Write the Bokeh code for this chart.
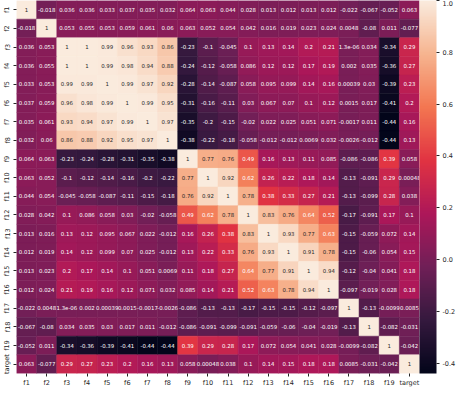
import numpy as np
from bokeh.plotting import figure
from bokeh.models import ColumnDataSource, LinearColorMapper, ColorBar, FixedTicker, PrintfTickFormatter
from bokeh.embed import file_html
from bokeh.resources import INLINE
from bokeh.core.properties import value

labels = ["f1", "f2", "f3", "f4", "f5", "f6", "f7", "f8", "f9", "f10",
          "f11", "f12", "f13", "f14", "f15", "f16", "f17", "f18", "f19", "target"]

row_f1 = [1, -0.018, 0.036, 0.036, 0.033, 0.037, 0.035, 0.032, 0.064, 0.063, 0.044, 0.028, 0.013, 0.012, 0.013, 0.012, -0.022, -0.067, -0.052, 0.063]
row_f2 = [-0.018, 1, 0.053, 0.055, 0.053, 0.059, 0.061, 0.06, 0.063, 0.052, 0.054, 0.042, 0.016, 0.019, 0.023, 0.024, 0.0048, -0.08, 0.011, -0.077]
row_f3 = [0.036, 0.053, 1, 1, 0.99, 0.96, 0.93, 0.86, -0.23, -0.1, -0.045, 0.1, 0.13, 0.14, 0.2, 0.21, 1.3e-06, 0.034, -0.34, 0.29]
row_f4 = [0.036, 0.055, 1, 1, 0.99, 0.98, 0.94, 0.88, -0.24, -0.12, -0.058, 0.086, 0.12, 0.12, 0.17, 0.19, 0.002, 0.035, -0.36, 0.27]
row_f5 = [0.033, 0.053, 0.99, 0.99, 1, 0.99, 0.97, 0.92, -0.28, -0.14, -0.087, 0.058, 0.095, 0.099, 0.14, 0.16, 0.00039, 0.03, -0.39, 0.23]
row_f6 = [0.037, 0.059, 0.96, 0.98, 0.99, 1, 0.99, 0.95, -0.31, -0.16, -0.11, 0.03, 0.067, 0.07, 0.1, 0.12, 0.0015, 0.017, -0.41, 0.2]
row_f7 = [0.035, 0.061, 0.93, 0.94, 0.97, 0.99, 1, 0.97, -0.35, -0.2, -0.15, -0.02, 0.022, 0.025, 0.051, 0.071, -0.0017, 0.011, -0.44, 0.16]
row_f8 = [0.032, 0.06, 0.86, 0.88, 0.92, 0.95, 0.97, 1, -0.38, -0.22, -0.18, -0.058, -0.012, -0.012, 0.0069, 0.032, -0.0026, -0.012, -0.44, 0.13]
row_f9 = [0.064, 0.063, -0.23, -0.24, -0.28, -0.31, -0.35, -0.38, 1, 0.77, 0.76, 0.49, 0.16, 0.13, 0.11, 0.085, -0.086, -0.086, 0.39, 0.058]
row_f10 = [0.063, 0.052, -0.1, -0.12, -0.14, -0.16, -0.2, -0.22, 0.77, 1, 0.92, 0.62, 0.26, 0.22, 0.18, 0.14, -0.13, -0.091, 0.29, 0.00048]
row_f11 = [0.044, 0.054, -0.045, -0.058, -0.087, -0.11, -0.15, -0.18, 0.76, 0.92, 1, 0.78, 0.38, 0.33, 0.27, 0.21, -0.13, -0.099, 0.28, 0.038]
row_f12 = [0.028, 0.042, 0.1, 0.086, 0.058, 0.03, -0.02, -0.058, 0.49, 0.62, 0.78, 1, 0.83, 0.76, 0.64, 0.52, -0.17, -0.091, 0.17, 0.1]
row_f13 = [0.013, 0.016, 0.13, 0.12, 0.095, 0.067, 0.022, -0.012, 0.16, 0.26, 0.38, 0.83, 1, 0.93, 0.77, 0.63, -0.15, -0.059, 0.072, 0.14]
row_f14 = [0.012, 0.019, 0.14, 0.12, 0.099, 0.07, 0.025, -0.012, 0.13, 0.22, 0.33, 0.76, 0.93, 1, 0.91, 0.78, -0.15, -0.06, 0.054, 0.15]
row_f15 = [0.013, 0.023, 0.2, 0.17, 0.14, 0.1, 0.051, 0.0069, 0.11, 0.18, 0.27, 0.64, 0.77, 0.91, 1, 0.94, -0.12, -0.04, 0.041, 0.18]
row_f16 = [0.012, 0.024, 0.21, 0.19, 0.16, 0.12, 0.071, 0.032, 0.085, 0.14, 0.21, 0.52, 0.63, 0.78, 0.94, 1, -0.097, -0.019, 0.028, 0.18]
row_f17 = [-0.022, 0.0048, 1.3e-06, 0.002, 0.00039, 0.0015, -0.0017, -0.0026, -0.086, -0.13, -0.13, -0.17, -0.15, -0.15, -0.12, -0.097, 1, -0.13, -0.0099, 0.0085]
row_f18 = [-0.067, -0.08, 0.034, 0.035, 0.03, 0.017, 0.011, -0.012, -0.086, -0.091, -0.099, -0.091, -0.059, -0.06, -0.04, -0.019, -0.13, 1, -0.082, -0.031]
row_f19 = [-0.052, 0.011, -0.34, -0.36, -0.39, -0.41, -0.44, -0.44, 0.39, 0.29, 0.28, 0.17, 0.072, 0.054, 0.041, 0.028, -0.0099, -0.082, 1, -0.042]
row_target = [0.063, -0.077, 0.29, 0.27, 0.23, 0.2, 0.16, 0.13, 0.058, 0.00048, 0.038, 0.1, 0.14, 0.15, 0.18, 0.18, 0.0085, -0.031, -0.042, 1]

rows = [row_f1, row_f2, row_f3, row_f4, row_f5, row_f6, row_f7, row_f8, row_f9, row_f10,
        row_f11, row_f12, row_f13, row_f14, row_f15, row_f16, row_f17, row_f18, row_f19, row_target]

colorbar_ticks = [-0.4, -0.2, 0.0, 0.2, 0.4, 0.6, 0.8, 1.0]

# seaborn "rocket"-like palette
anchors = ["#03051a", "#35193e", "#701f57", "#ad1759", "#e13342", "#f37651", "#f6b48f", "#faebdd"]
def hex2rgb(h):
    return np.array([int(h[1:3], 16), int(h[3:5], 16), int(h[5:7], 16)], dtype=float)
anc = np.array([hex2rgb(h) for h in anchors])
apos = np.linspace(0, 1, len(anchors))
tt = np.linspace(0, 1, 256)
pal_rgb = np.stack([np.interp(tt, apos, anc[:, k]) for k in range(3)], axis=1)
palette = ["#%02x%02x%02x" % tuple(int(round(c)) for c in rgb) for rgb in pal_rgb]

low = min(min(r) for r in rows)
high = max(max(r) for r in rows)
mapper = LinearColorMapper(palette=palette, low=low, high=high)

def lum(rgb):
    c = rgb / 255.0
    c = np.where(c <= 0.03928, c / 12.92, ((c + 0.055) / 1.055) ** 2.4)
    return 0.2126 * c[0] + 0.7152 * c[1] + 0.0722 * c[2]

xs, ys, vs, ts, tcs = [], [], [], [], []
for i, rname in enumerate(labels):
    for j, cname in enumerate(labels):
        v = rows[i][j]
        xs.append(cname)
        ys.append(rname)
        vs.append(v)
        ts.append(format(v, ".2g"))
        idx = min(255, max(0, int((v - low) / (high - low) * 256)))
        tcs.append("#262626" if lum(pal_rgb[idx]) > 0.408 else "#ffffff")

src = ColumnDataSource(dict(x=xs, y=ys, v=vs, t=ts, tc=tcs))

p = figure(width=458, height=389, x_range=labels, y_range=list(reversed(labels)),
           output_backend="svg", toolbar_location=None,
           min_border_left=10, min_border_right=0, min_border_top=0, min_border_bottom=0)
p.outline_line_color = None
p.xgrid.grid_line_color = None
p.ygrid.grid_line_color = None

p.rect(x="x", y="y", width=1, height=1, source=src,
       fill_color={"field": "v", "transform": mapper},
       line_color={"field": "v", "transform": mapper}, line_width=0.5)
p.text(x="x", y="y", text="t", text_color="tc", source=src,
       text_font=value("DejaVu Sans"), text_font_size="5.4px",
       text_align="center", text_baseline="middle")

for ax in (p.xaxis[0], p.yaxis[0]):
    ax.axis_line_color = None
    ax.major_tick_in = 0
    ax.major_tick_out = 3
    ax.major_tick_line_color = "#262626"
    ax.major_label_text_font = "DejaVu Sans"
    ax.major_label_text_font_size = "6.5px"
    ax.major_label_text_color = "#262626"
    ax.major_label_standoff = 2
p.yaxis[0].major_label_orientation = "vertical"

cb = ColorBar(color_mapper=mapper, width=17, padding=0, margin=11,
              ticker=FixedTicker(ticks=colorbar_ticks),
              formatter=PrintfTickFormatter(format="%.1f"),
              major_label_text_font="DejaVu Sans", major_label_text_font_size="6.5px",
              major_label_text_color="#262626",
              major_tick_line_color="#262626", major_tick_out=3, major_tick_in=0,
              label_standoff=3, bar_line_color=None, border_line_color=None,
              background_fill_color=None)
p.add_layout(cb, "right")

open("out.html", "w").write(file_html(p, INLINE))
